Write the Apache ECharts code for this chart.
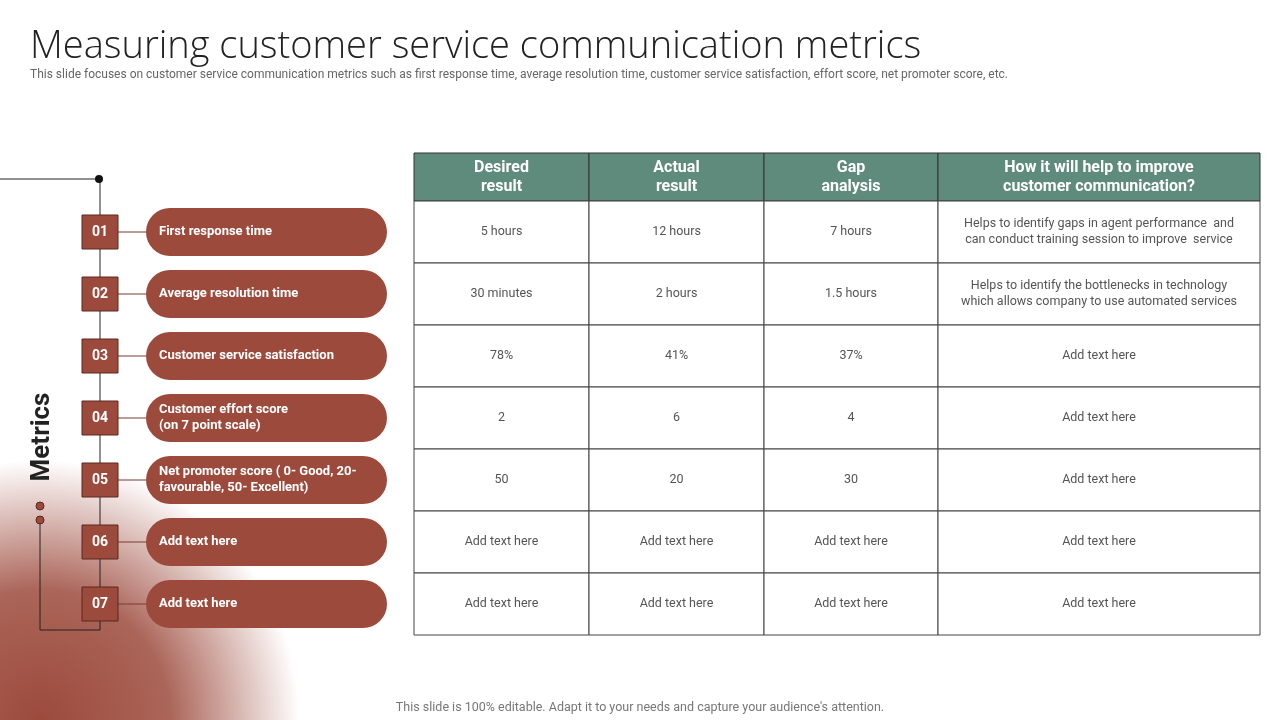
<!DOCTYPE html>
<html><head><meta charset="utf-8">
<script src="https://cdn.jsdelivr.net/npm/echarts@6/dist/echarts.min.js"></script>
<style>html,body{margin:0;padding:0;background:#fff}#c{width:1280px;height:720px}</style>
</head><body><div id="c"></div>
<script>
const headers = ["Desired\nresult","Actual\nresult","Gap\nanalysis","How it will help to improve\ncustomer communication?"];
const metrics = ["First response time","Average resolution time","Customer service satisfaction","Customer effort score\n(on 7 point scale)","Net promoter score ( 0- Good, 20-\nfavourable, 50- Excellent)","Add text here","Add text here"];
const numbers = ["01","02","03","04","05","06","07"];
const desired = ["5 hours","30 minutes","78%","2","50","Add text here","Add text here"];
const actual = ["12 hours","2 hours","41%","6","20","Add text here","Add text here"];
const gap = ["7 hours","1.5 hours","37%","4","30","Add text here","Add text here"];
const help = ["Helps to identify gaps in agent performance  and\ncan conduct training session to improve  service","Helps to identify the bottlenecks in technology\nwhich allows company to use automated services","Add text here","Add text here","Add text here","Add text here","Add text here"];

const colX = [414,589,764,938,1260];
const headTop = 153, headBot = 201, rowH = 62;
const red = '#9c4a3c', green = '#5f8b7c';
const F = 'Roboto, "Open Sans", sans-serif';
const g = [];
g.push({type:'circle',shape:{cx:40,cy:720,r:260},silent:true,style:{fill:{type:'radial',x:0.5,y:0.5,r:0.5,colorStops:[{offset:0,color:'rgba(156,74,60,1)'},{offset:0.5,color:'rgba(156,74,60,0.85)'},{offset:1,color:'rgba(156,74,60,0)'}]}}});
g.push({type:'text',style:{x:30,y:28,text:'Measuring customer service communication metrics',fill:'#222',font:'300 38px "Open Sans", sans-serif'}});
g.push({type:'text',style:{x:30,y:69,text:'This slide focuses on customer service communication metrics such as first response time, average resolution time, customer service satisfaction, effort score, net promoter score, etc.',fill:'#666',font:'12px '+F}});
// connector lines (behind badges)
g.push({type:'line',shape:{x1:0,y1:179,x2:100,y2:179},style:{stroke:'#222',lineWidth:1}});
g.push({type:'line',shape:{x1:100,y1:179,x2:100,y2:616},style:{stroke:'#222',lineWidth:1}});
g.push({type:'circle',shape:{cx:99,cy:179,r:4},style:{fill:'#111'}});
g.push({type:'polyline',shape:{points:[[40,520],[40,630],[100,630],[100,616]]},style:{stroke:'#222',lineWidth:1,fill:null}});
g.push({type:'circle',shape:{cx:40,cy:506,r:4},style:{fill:red,stroke:'#5a2820'}});
g.push({type:'circle',shape:{cx:40,cy:520,r:4},style:{fill:red,stroke:'#5a2820'}});
for(let c=0;c<4;c++){
  g.push({type:'rect',shape:{x:colX[c],y:headTop,width:colX[c+1]-colX[c],height:headBot-headTop},style:{fill:green,stroke:'#333',lineWidth:1}});
  g.push({type:'text',style:{x:(colX[c]+colX[c+1])/2,y:(headTop+headBot)/2,text:headers[c],fill:'#fff',font:'bold 16px '+F,align:'center',verticalAlign:'middle',lineHeight:19}});
}
const cols=[desired,actual,gap,help];
for(let r=0;r<7;r++){
  const y=headBot+r*rowH;
  for(let c=0;c<4;c++){
    g.push({type:'rect',shape:{x:colX[c],y:y,width:colX[c+1]-colX[c],height:rowH},style:{fill:'rgba(255,255,255,0.92)',stroke:'#444',lineWidth:1}});
    g.push({type:'text',style:{x:(colX[c]+colX[c+1])/2,y:y+rowH/2,text:cols[c][r],fill:'#555',font:'12.5px '+F,align:'center',verticalAlign:'middle',lineHeight:16}});
  }
  const cy=232+r*62;
  g.push({type:'line',shape:{x1:118,y1:cy,x2:146,y2:cy},style:{stroke:'#7a3a30',lineWidth:1}});
  g.push({type:'rect',shape:{x:82,y:cy-17,width:36,height:34},style:{fill:red,stroke:'#5a2820',lineWidth:1}});
  g.push({type:'text',style:{x:100,y:cy,text:numbers[r],fill:'#fff',font:'bold 14px '+F,align:'center',verticalAlign:'middle'}});
  g.push({type:'rect',shape:{x:146,y:cy-24,width:241,height:48,r:24},style:{fill:red}});
  g.push({type:'text',style:{x:159,y:cy,text:metrics[r],fill:'#fff',font:'bold 13px '+F,verticalAlign:'middle',lineHeight:16}});
}
g.push({type:'text',rotation:Math.PI/2,x:42,y:437,style:{x:0,y:0,text:'Metrics',fill:'#222',font:'bold 26px '+F,align:'center',verticalAlign:'middle'}});
g.push({type:'text',style:{x:640,y:708,text:"This slide is 100% editable. Adapt it to your needs and capture your audience's attention.",fill:'#777',font:'12.5px '+F,align:'center',verticalAlign:'middle'}});
const chart=echarts.init(document.getElementById('c'));
chart.setOption({graphic:g});
</script></body></html>
